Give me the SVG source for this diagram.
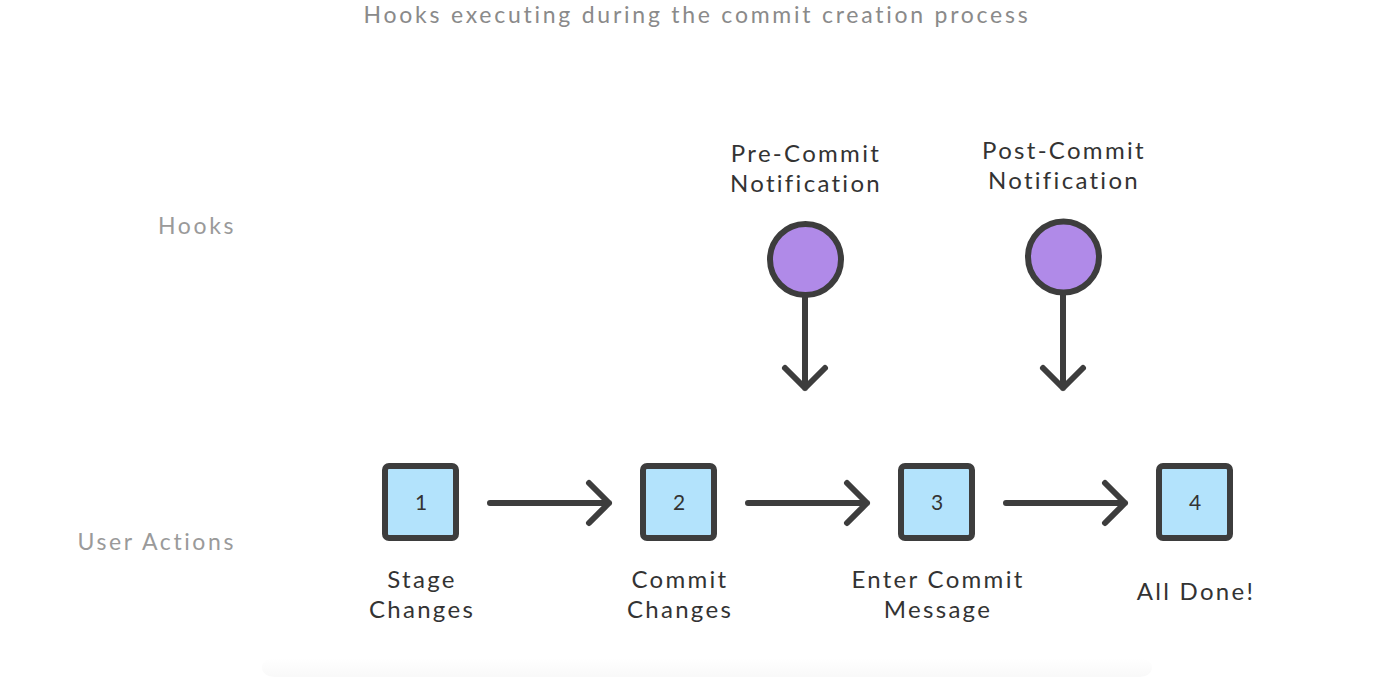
<svg xmlns="http://www.w3.org/2000/svg" width="1400" height="677" viewBox="0 0 1400 677">
<defs>
<linearGradient id="shadow" x1="0" y1="0" x2="0" y2="1">
<stop offset="0" stop-color="#000" stop-opacity="0"/>
<stop offset="1" stop-color="#000" stop-opacity="0.025"/>
</linearGradient>
<style>
.title{font-family:Lato,"Noto Sans",sans-serif;font-size:23px;fill:#8a8a8a;letter-spacing:2.75px}
.lane{font-family:Lato,"Noto Sans",sans-serif;font-size:23px;fill:#9a9a9a;letter-spacing:2.6px}
.lbl{font-family:Lato,"Noto Sans",sans-serif;font-size:24px;fill:#333;letter-spacing:2.3px;text-anchor:middle}
.num{font-family:Lato,"Noto Sans",sans-serif;font-size:21px;fill:#333;text-anchor:middle}
.box{fill:#b3e3fc;stroke:#3d3d3d;stroke-width:6}
.hook{fill:#b08ae8;stroke:#3d3d3d;stroke-width:6}
.conn{fill:none;stroke:#3d3d3d;stroke-width:6;stroke-linecap:round;stroke-linejoin:round}
</style>
</defs>
<rect width="1400" height="677" fill="#fff"/>
<rect x="262" y="658" width="890" height="19" fill="url(#shadow)" rx="12"/>
<text class="title" x="697" y="23" text-anchor="middle">Hooks executing during the commit creation process</text>
<text class="lane" x="236" y="234" text-anchor="end">Hooks</text>
<text class="lane" x="236" y="550" text-anchor="end">User Actions</text>

<g id="connectors">
<path class="conn" d="M490 503 H609 M589 483 L609 503 L589 523"/>
<path class="conn" d="M748 503 H867 M847 483 L867 503 L847 523"/>
<path class="conn" d="M1006 503 H1125 M1105 483 L1125 503 L1105 523"/>
<path class="conn" d="M805 297 V388 M785 368 L805 388 L825 368"/>
<path class="conn" d="M1063 294 V388 M1043 368 L1063 388 L1083 368"/>
</g>

<g id="node-1">
<rect class="box" x="385" y="466" width="71" height="72" rx="4"/>
<text class="num" x="421" y="510">1</text>
<text class="lbl" x="422" y="588">Stage</text>
<text class="lbl" x="422" y="618">Changes</text>
</g>
<g id="node-2">
<rect class="box" x="643" y="466" width="71" height="72" rx="4"/>
<text class="num" x="679" y="510">2</text>
<text class="lbl" x="680" y="588">Commit</text>
<text class="lbl" x="680" y="618">Changes</text>
</g>
<g id="node-3">
<rect class="box" x="901" y="466" width="71" height="72" rx="4"/>
<text class="num" x="937" y="510">3</text>
<text class="lbl" x="938" y="588">Enter Commit</text>
<text class="lbl" x="938" y="618">Message</text>
</g>
<g id="node-4">
<rect class="box" x="1159" y="466" width="71" height="72" rx="4"/>
<text class="num" x="1195" y="510">4</text>
<text class="lbl" x="1196" y="600">All Done!</text>
</g>
<g id="hook-pre">
<circle class="hook" cx="805.5" cy="259.5" r="35.5"/>
<text class="lbl" x="806" y="162">Pre-Commit</text>
<text class="lbl" x="806" y="192">Notification</text>
</g>
<g id="hook-post">
<circle class="hook" cx="1063.5" cy="257" r="35.5"/>
<text class="lbl" x="1064" y="159">Post-Commit</text>
<text class="lbl" x="1064" y="189">Notification</text>
</g>
</svg>
